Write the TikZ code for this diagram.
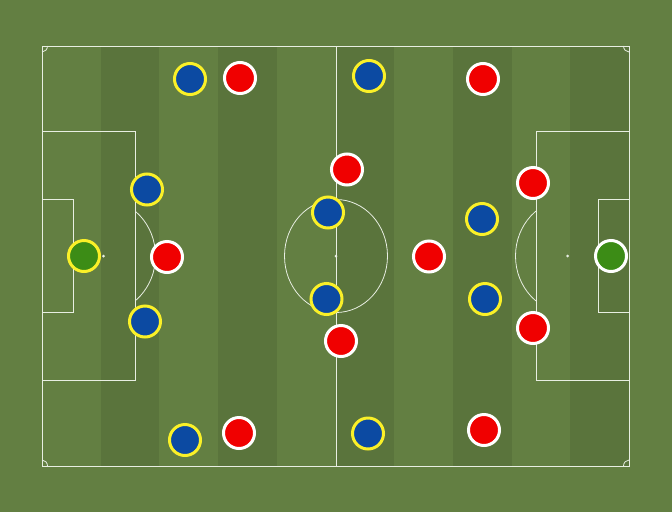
\documentclass[tikz,border=0pt]{standalone}
\usetikzlibrary{shadows}
\definecolor{grassL}{RGB}{99,127,66}
\definecolor{grassD}{RGB}{90,116,60}
\definecolor{lineC}{RGB}{232,238,226}
\definecolor{pBlue}{RGB}{12,74,162}
\definecolor{pYellow}{RGB}{250,240,40}
\definecolor{pRed}{RGB}{240,0,0}
\definecolor{pGreen}{RGB}{60,140,22}
\tikzset{
  pitchline/.style={draw=lineC, line width=1pt},
  player/.style={circle, minimum size=31pt, inner sep=0pt, line width=3pt,
    drop shadow={shadow xshift=0.6pt, shadow yshift=-1pt, opacity=0.25}},
  blueP/.style={player, fill=pBlue, draw=pYellow},
  redP/.style={player, fill=pRed, draw=white},
  gkA/.style={player, fill=pGreen, draw=pYellow},
  gkB/.style={player, fill=pGreen, draw=white},
  spot/.style={circle, fill=lineC, inner sep=0pt, minimum size=3pt}
}
\begin{document}
\begin{tikzpicture}[x=1pt,y=-1pt]
\fill[grassL] (0,0) rectangle (672,512);
\useasboundingbox (0,0) rectangle (672,512);
% stripes
\foreach \i in {1,3,5,7,9} {
  \fill[grassD] ({42+\i*58.7},46) rectangle ({42+(\i+1)*58.7},466);
}
% outline and halfway line
\draw[pitchline] (42,46) rectangle (629,466);
\draw[pitchline] (336,46) -- (336,466);
% centre circle
\draw[pitchline, line width=0.8pt] (336,256) ellipse [x radius=51.5, y radius=56.5];
\node[spot] (cs) at (336,256) {};
% left penalty area
\draw[pitchline] (42,131) rectangle (135,380);
\draw[pitchline] (42,199) rectangle (73,312);
\node[spot] (lps) at (103.5,256) {};
\begin{scope}
\clip (135,100) rectangle (200,400);
\draw[pitchline, line width=0.8pt] (103.5,256) ellipse [x radius=52, y radius=56.5];
\end{scope}
% right penalty area
\draw[pitchline] (536,131) rectangle (629,380);
\draw[pitchline] (598,199) rectangle (629,312);
\node[spot] (rps) at (567.5,256) {};
\begin{scope}
\clip (480,100) rectangle (536,400);
\draw[pitchline, line width=0.8pt] (567.5,256) ellipse [x radius=52, y radius=56.5];
\end{scope}
% corner arcs
\draw[pitchline, line width=0.8pt] (47.5,46) arc[start angle=0, end angle=90, x radius=5.5, y radius=6];
\draw[pitchline, line width=0.8pt] (623.5,46) arc[start angle=180, end angle=90, x radius=5.5, y radius=6];
\draw[pitchline, line width=0.8pt] (47.5,466) arc[start angle=0, end angle=-90, x radius=5.5, y radius=6];
\draw[pitchline, line width=0.8pt] (623.5,466) arc[start angle=180, end angle=270, x radius=5.5, y radius=6];
% blue team
\node[gkA] (bgk) at (84,256) {};
\node[blueP] (b1) at (190,79) {};
\node[blueP] (b2) at (369,76) {};
\node[blueP] (b3) at (147,189.5) {};
\node[blueP] (b4) at (328,212.5) {};
\node[blueP] (b5) at (482,219) {};
\node[blueP] (b6) at (145,321.5) {};
\node[blueP] (b7) at (326.5,299) {};
\node[blueP] (b8) at (485,299) {};
\node[blueP] (b9) at (185,440) {};
\node[blueP] (b10) at (368,433.5) {};
% red team
\node[gkB] (rgk) at (611,256) {};
\node[redP] (r1) at (240,78) {};
\node[redP] (r2) at (483,79) {};
\node[redP] (r3) at (347,169.5) {};
\node[redP] (r4) at (533,183) {};
\node[redP] (r5) at (167,257) {};
\node[redP] (r6) at (429,256.5) {};
\node[redP] (r7) at (533,328) {};
\node[redP] (r8) at (341,341) {};
\node[redP] (r9) at (239,433) {};
\node[redP] (r10) at (484,430) {};
\end{tikzpicture}
\end{document}
